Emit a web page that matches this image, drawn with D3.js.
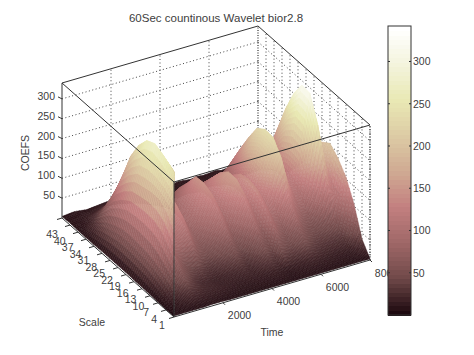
<!DOCTYPE html>
<html lang="en">
<head>
  <meta charset="utf-8" />
  <style>
    body { margin: 0; background: #fff; }
    text { font-family: "Liberation Sans", Arial, sans-serif; font-size: 10.5px; fill: #404040; }
    text.title { font-size: 11.5px; }
  </style>
</head>
<body>
<script src="https://cdn.jsdelivr.net/npm/d3@7"></script>
<script>

const scaleTicks = [1, 4, 7, 10, 13, 16, 19, 22, 25, 28, 31, 34, 37, 40, 43];
const timeTicks = [2000, 4000, 6000, 8000];
const coefTicks = [50, 100, 150, 200, 250, 300];

// time samples of the part left of the front edge, then of the rest
const timesLeft = [0, 500, 1000, 1500, 2000, 2500, 3000, 3500, 4000, 4500, 5000];
const timesRight = d3.range(0, 8001, 250);

// one row per scale tick
const coefsLeft = [
  [1, 3, 7, 10, 8, 5, 3, 2, 2, 2, 2],
  [1, 15, 39, 60, 48, 30, 15, 6, 3, 2, 2],
  [2, 34, 92, 130, 96, 60, 30, 12, 6, 4, 3],
  [3, 48, 138, 190, 136, 85, 42, 17, 9, 5, 4],
  [4, 60, 175, 235, 176, 110, 55, 22, 11, 7, 5],
  [4, 66, 190, 255, 200, 125, 62, 25, 12, 8, 6],
  [5, 69, 190, 275, 220, 138, 69, 28, 14, 8, 6],
  [5, 71, 185, 285, 228, 142, 71, 28, 14, 9, 6],
  [5, 69, 179, 275, 220, 138, 69, 28, 14, 8, 6],
  [5, 61, 159, 245, 196, 122, 61, 24, 12, 7, 6],
  [4, 50, 130, 200, 160, 100, 50, 20, 10, 6, 5],
  [4, 32, 83, 128, 102, 64, 32, 13, 6, 4, 4],
  [4, 15, 39, 60, 48, 30, 15, 6, 4, 3, 3],
  [5, 8, 14, 22, 18, 11, 7, 5, 6, 4, 5],
  [4, 7, 3, 6, 9, 4, 7, 3, 6, 8, 3]
];

const coefsRight = [
  [3, 3, 3, 3, 3, 3, 4, 4, 4, 3, 3, 3, 3, 3, 3, 3, 3, 3, 3, 3, 3, 3, 3, 3, 3, 3, 3, 3, 3, 3, 3, 3, 3],
  [3, 8, 14, 20, 25, 21, 18, 16, 15, 14, 12, 11, 10, 10, 10, 11, 11, 12, 12, 10, 8, 10, 12, 14, 15, 14, 13, 12, 11, 11, 12, 20, 35],
  [3, 15, 30, 45, 55, 40, 28, 20, 18, 15, 14, 16, 18, 20, 22, 18, 24, 30, 35, 28, 48, 38, 36, 42, 45, 36, 30, 28, 28, 28, 30, 55, 105],
  [3, 22, 45, 68, 85, 62, 46, 40, 38, 30, 28, 32, 36, 40, 45, 34, 38, 52, 65, 50, 95, 70, 56, 68, 80, 60, 48, 44, 46, 50, 60, 100, 155],
  [4, 25, 50, 75, 95, 92, 88, 86, 88, 62, 52, 56, 62, 72, 80, 58, 70, 88, 105, 78, 125, 92, 85, 108, 125, 92, 74, 68, 80, 105, 150, 110, 185],
  [4, 28, 50, 70, 85, 98, 110, 118, 125, 84, 70, 76, 88, 102, 115, 84, 104, 124, 140, 104, 145, 112, 135, 172, 205, 140, 105, 100, 135, 190, 260, 165, 205],
  [5, 22, 40, 56, 70, 90, 110, 128, 145, 100, 84, 92, 108, 125, 140, 104, 128, 148, 160, 118, 150, 125, 165, 205, 238, 160, 122, 118, 165, 245, 322, 195, 190],
  [5, 18, 32, 44, 55, 75, 95, 118, 140, 100, 88, 96, 112, 132, 150, 110, 132, 150, 160, 118, 145, 130, 170, 210, 240, 165, 125, 120, 170, 250, 325, 190, 150],
  [5, 14, 25, 34, 40, 58, 78, 100, 120, 90, 80, 88, 105, 125, 148, 108, 120, 134, 140, 106, 125, 115, 150, 195, 225, 150, 118, 112, 160, 225, 285, 165, 110],
  [4, 12, 20, 26, 30, 45, 62, 80, 95, 72, 66, 72, 85, 100, 115, 85, 94, 104, 110, 86, 100, 95, 125, 158, 185, 125, 98, 90, 125, 180, 230, 130, 75],
  [4, 10, 15, 18, 20, 30, 42, 55, 65, 52, 48, 52, 62, 75, 85, 66, 72, 78, 80, 66, 75, 72, 95, 122, 140, 100, 78, 72, 92, 130, 162, 90, 45],
  [4, 8, 11, 12, 12, 18, 24, 30, 35, 30, 28, 30, 36, 40, 45, 38, 40, 44, 45, 40, 45, 46, 58, 75, 85, 65, 52, 46, 55, 72, 90, 52, 25],
  [4, 7, 9, 9, 8, 9, 11, 13, 15, 15, 14, 14, 15, 17, 18, 18, 19, 19, 20, 20, 20, 24, 30, 38, 45, 40, 30, 24, 24, 30, 35, 22, 12],
  [5, 6, 4, 7, 5, 6, 4, 8, 7, 5, 8, 6, 9, 6, 8, 5, 8, 7, 8, 6, 8, 7, 11, 9, 15, 12, 9, 8, 11, 9, 12, 8, 6],
  [4, 7, 3, 6, 9, 4, 7, 3, 6, 8, 3, 6, 4, 7, 5, 8, 3, 6, 4, 7, 5, 3, 6, 4, 5, 7, 3, 5, 6, 4, 5, 3, 4]
];

const coefMax = 340;
const barMax = 342;

// MATLAB pink
const pinkStops = ['#1e0a10', '#714a4a', '#a06868', '#c38080', '#d0ab93', '#ddcca5', '#e9e9b4', '#f4f4dd', '#ffffff'];

const width = 474, height = 355;

const svg = d3.select('body').append('svg')
  .attr('width', width)
  .attr('height', height);

const tScale = d3.scaleLinear().domain([0, 8000]).range([0, 1]);
const sScale = d3.scaleLinear().domain([1, 43]).range([0, 1]);
const zScale = d3.scaleLinear().domain([0, coefMax]).range([0, 135]);

const colorScale = d3.scaleLinear()
  .domain(pinkStops.map((c, i) => i / (pinkStops.length - 1) * barMax))
  .range(pinkStops);

function project(time, scale, coef) {
  const t = tScale(time), s = sScale(scale);
  return [174 + 196 * t - 112 * s, 317 - 57 * t - 99 * s - zScale(coef)];
}

const line = (a, b, stroke, dash, w) => svg.append('line')
  .attr('x1', a[0]).attr('y1', a[1]).attr('x2', b[0]).attr('y2', b[1])
  .attr('stroke', stroke).attr('stroke-width', w || 1)
  .attr('stroke-dasharray', dash || null);

const dots = '1 2.5';

// back walls
timeTicks.slice(0, 3).forEach(d => line(project(d, 43, 0), project(d, 43, coefMax), '#444', dots));
scaleTicks.slice(0, 14).forEach(d => line(project(8000, d, 0), project(8000, d, coefMax), '#444', dots));
coefTicks.forEach(d => {
  line(project(0, 43, d), project(8000, 43, d), '#444', dots);
  line(project(8000, 43, d), project(8000, 1, d), '#444', dots);
});
line(project(8000, 43, 0), project(8000, 43, coefMax), '#333', '1 1.5', 1.2);
line(project(8000, 1, 0), project(8000, 1, coefMax), '#333', '1 1.5', 1.2);

// surface, drawn back to front
svg.append('clipPath').attr('id', 'leftOfEdge').append('rect')
  .attr('x', 0).attr('y', 0).attr('width', 174.5).attr('height', height);
svg.append('clipPath').attr('id', 'rightOfEdge').append('rect')
  .attr('x', 174.5).attr('y', 0).attr('width', width).attr('height', height);

function drawSurface(times, rows, clipId) {
  const g = svg.append('g').attr('clip-path', `url(#${clipId})`);
  const sub = 5;
  for (let i = scaleTicks.length - 2; i >= 0; i--) {
    for (let j = times.length - 2; j >= 0; j--) {
      const at = (u, v) => {
        const z = d3.interpolate(
          d3.interpolate(rows[i][j], rows[i][j + 1])(u),
          d3.interpolate(rows[i + 1][j], rows[i + 1][j + 1])(u))(v);
        const p = project(
          times[j] + (times[j + 1] - times[j]) * u,
          scaleTicks[i] + (scaleTicks[i + 1] - scaleTicks[i]) * v, z);
        return { p, z };
      };
      for (let b = sub - 1; b >= 0; b--) {
        for (let a = sub - 1; a >= 0; a--) {
          const c = [at(a / sub, b / sub), at((a + 1) / sub, b / sub),
            at((a + 1) / sub, (b + 1) / sub), at(a / sub, (b + 1) / sub)];
          const col = colorScale(d3.mean(c, d => d.z));
          g.append('path')
            .attr('d', d3.line()(c.map(d => d.p)) + 'Z')
            .attr('fill', col)
            .attr('stroke', col)
            .attr('stroke-width', 0.5);
        }
      }
    }
  }
}
drawSurface(timesLeft, coefsLeft, 'leftOfEdge');
drawSurface(timesRight, coefsRight, 'rightOfEdge');

// box
const boxColor = '#333';
line(project(0, 43, 0), project(0, 43, coefMax), boxColor);
line(project(0, 1, 0), project(0, 1, coefMax), boxColor);
line(project(0, 43, coefMax), project(0, 1, coefMax), boxColor);
line(project(0, 1, coefMax), project(8000, 1, coefMax), boxColor);
line(project(0, 43, coefMax), project(8000, 43, coefMax), boxColor);
line(project(8000, 43, coefMax), project(8000, 1, coefMax), boxColor);
line(project(0, 43, 0), project(0, 1, 0), boxColor);
line(project(0, 1, 0), project(8000, 1, 0), boxColor);

// ticks and labels
const label = (x, y, txt) => svg.append('text')
  .attr('x', x).attr('y', y)
  .attr('text-anchor', 'middle')
  .attr('dominant-baseline', 'central')
  .text(txt);

coefTicks.forEach(d => {
  const p = project(0, 43, d);
  line(p, [p[0] - 4, p[1] - 2], boxColor);
  svg.append('text')
    .attr('x', 55).attr('y', p[1] - 3)
    .attr('text-anchor', 'end')
    .attr('dominant-baseline', 'central')
    .text(d);
});

const scaleLabelX = d3.scaleLinear().domain([1, 43]).range([162, 52]);
const scaleLabelY = d3.scaleLinear().domain([1, 43]).range([325, 234]);
scaleTicks.forEach(d => {
  const p = project(0, d, 0);
  line(p, [p[0] - 5, p[1] + 1.5], boxColor);
  label(scaleLabelX(d), scaleLabelY(d), d);
});

timeTicks.forEach(d => {
  const p = project(d, 1, 0);
  line(p, [p[0] + 2, p[1] + 2], boxColor);
  label(p[0] + 16.5, p[1] + 12.5, d);
});

label(216, 18, '60Sec countinous Wavelet bior2.8').attr('class', 'title');
label(92, 322, 'Scale');
label(272, 332, 'Time');
svg.append('text')
  .attr('transform', 'translate(25,153) rotate(-90)')
  .attr('text-anchor', 'middle')
  .attr('dominant-baseline', 'central')
  .text('COEFS');

// colorbar
const barX = 388, barW = 23;
const barY = d3.scaleLinear().domain([0, barMax]).range([315, 26]);
d3.range(64).forEach(i => {
  const z0 = i / 64 * barMax, z1 = (i + 1) / 64 * barMax;
  svg.append('rect')
    .attr('x', barX).attr('width', barW)
    .attr('y', barY(z1)).attr('height', barY(z0) - barY(z1) + 0.5)
    .attr('shape-rendering', 'crispEdges')
    .attr('fill', colorScale(i / 63 * barMax));
});
svg.append('rect')
  .attr('x', barX).attr('y', barY(barMax))
  .attr('width', barW).attr('height', barY(0) - barY(barMax))
  .attr('fill', 'none').attr('stroke', boxColor);
coefTicks.forEach(d => {
  const y = barY(d);
  line([barX, y], [barX + 2, y], boxColor);
  line([barX + barW - 2, y], [barX + barW, y], boxColor);
  svg.append('text')
    .attr('x', barX + barW + 2).attr('y', y)
    .attr('dominant-baseline', 'central')
    .text(d);
});

</script>
</body>
</html>
